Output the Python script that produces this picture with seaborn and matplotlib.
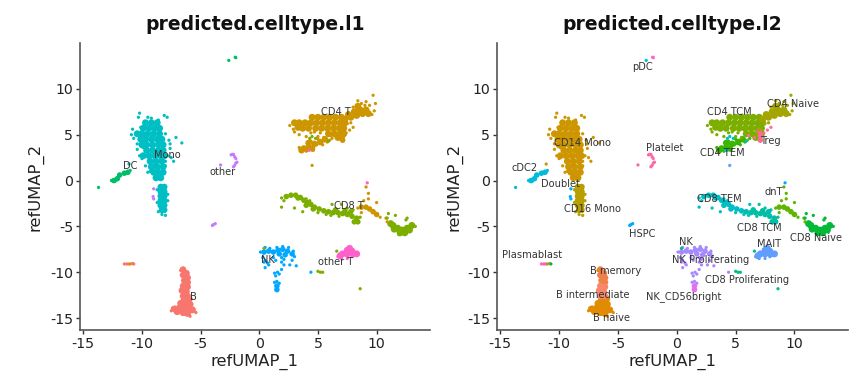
import matplotlib
matplotlib.use("Agg")
import matplotlib.pyplot as plt
import pandas as pd
import seaborn as sns

sns.set_theme(style="ticks", rc={"font.family": "DejaVu Sans", "axes.unicode_minus": False})

# ---- data: (x, y) in refUMAP coordinates ----
cd14_core = [(-9.7,6.3),(-9.2,6.3),(-8.7,6.3),(-9.9,5.7),(-9.4,5.7),(-8.9,5.7),(-8.5,5.7),
 (-10.4,5.1),(-10.0,5.1),(-9.5,5.1),(-9.0,5.1),(-8.5,5.1),(-10.1,4.5),(-9.7,4.5),(-9.2,4.5),(-8.7,4.5),(-8.3,4.5),
 (-10.0,3.9),(-9.6,3.9),(-9.1,3.9),(-8.6,3.9),(-8.2,3.9),(-9.6,3.3),(-9.1,3.3),(-8.6,3.3),(-8.2,3.3),
 (-9.9,2.7),(-9.4,2.7),(-8.9,2.7),(-8.4,2.7),(-8.1,2.7),(-9.3,2.1),(-8.8,2.1),(-8.3,2.1),
 (-9.2,1.5),(-8.7,1.5),(-8.2,1.5),(-9.0,0.9),(-8.6,0.9),(-8.2,0.9),(-8.8,0.3),(-8.4,0.3)]
cd14_sparse = [(-10.2,7.35),(-10.3,6.9),(-9.5,6.9),(-8.1,7.1),(-7.85,6.9),(-7.1,4.7),(-6.6,4.1),(-10.8,5.6),
 (-10.9,5.0),(-10.7,4.6),(-10.4,4.0),(-10.4,3.4),(-10.2,2.7),(-10.0,2.4),(-9.7,1.6),(-8.6,5.2),(-8.0,5.1),(-7.7,4.4),
 (-7.6,3.5),(-7.5,2.5),(-7.3,2.1),(-7.8,2.7),(-8.0,1.6),(-9.7,4.9),(-9.5,3.1),(-9.9,3.6),(-10.1,5.8),(-9.2,6.8),
 (-8.6,6.6),(-8.4,5.6),(-8.0,2.1),(-9.3,1.0),(-8.9,1.8),(-9.5,0.9),(-7.6,4.0),(-11.1,1.8)]
cd16_core = [(-8.4,-0.7),(-8.1,-0.7),(-8.4,-1.2),(-8.1,-1.2),(-8.4,-1.7),(-8.1,-1.7),(-8.4,-2.2),(-8.1,-2.2),
 (-8.4,-2.7),(-8.1,-2.7),(-8.3,-3.2),(-8.1,-3.2)]
cd16_sparse = [(-8.7,-1.0),(-7.8,-1.5),(-7.8,-2.2),(-8.7,-2.4),(-8.6,-3.4),(-8.0,-3.8),(-8.3,-3.7)]
cd4tcm_core = [(4.5,6.9),(5.0,6.9),(5.5,6.9),(6.0,6.9),(6.5,6.9),(7.0,6.9),
 (3.0,6.3),(3.4,6.3),(3.9,6.3),(4.4,6.3),(4.9,6.3),(5.4,6.3),(5.9,6.3),(6.4,6.3),(6.9,6.3),(7.3,6.3),
 (3.3,5.8),(3.7,5.7),(4.2,5.7),(4.8,5.7),(5.3,5.7),(5.8,5.7),(6.3,5.7),(6.8,5.7),(7.2,5.7),
 (5.9,5.1),(6.4,5.1),(6.9,5.1),(7.2,5.1),(6.7,4.7),(7.0,4.7)]
cd4tcm_sparse = [(3.4,5.0),(3.0,5.3),(4.0,4.8),(2.9,5.6),(5.0,4.8),(5.5,4.7),(5.2,5.2),(4.7,5.3),(6.0,4.4),(2.6,6.0),(4.4,5.2)]
cd4naive_core = [(7.3,6.7),(7.8,6.9),(8.3,7.1),(8.8,7.3),(9.3,7.3),(7.6,7.2),(8.1,7.5),(8.6,7.7),(9.1,7.7),(8.4,8.1)]
cd4naive_sparse = [(8.4,8.7),(8.7,8.4),(9.1,8.6),(9.4,8.2),(9.9,8.4),(9.7,9.3),(9.0,8.2),(8.0,8.0),(9.6,7.2),(9.8,7.6),(7.8,6.3),(7.5,6.2),(7.0,5.5)]
cd4tem_core = [(3.8,3.5),(4.2,3.6),(4.2,4.1),(4.7,4.0),(5.2,4.2),(4.5,3.5),(5.6,4.5),(3.6,3.3)]
cd4tem_sparse = [(4.0,3.2),(5.0,4.5),(4.9,3.9),(5.4,3.9),(5.8,4.2),(6.2,4.6),(3.4,3.6),(4.4,4.3),(4.6,3.3)]
treg_core = [(7.0,5.4),(7.1,4.9),(7.1,4.4)]
treg_sparse = [(7.7,5.5),(8.0,5.8),(6.1,4.9),(6.6,4.7),(7.4,5.2)]
cd8tem_core = [(2.3,-1.75),(2.7,-1.6),(3.1,-1.6),(3.5,-1.85),(3.8,-2.15),(4.1,-2.4),(4.4,-2.6),(4.7,-2.9),(5.1,-3.1),(5.5,-3.3),(3.3,-1.9),(4.0,-2.7),(4.6,-3.1)]
cd8tem_sparse = [(1.9,-2.9),(3.0,-3.0),(3.7,-3.4),(6.2,-2.6),(1.9,-1.9),(2.1,-2.2),(4.0,-2.0),(4.3,-2.2),(5.0,-3.5),(5.7,-3.7),(6.1,-3.8)]
cd8tcm_core = [(5.9,-3.4),(6.3,-3.5),(6.7,-3.5),(7.1,-3.6),(7.5,-3.7),(7.9,-3.9),(8.3,-4.1),(8.1,-4.5),(8.4,-4.5),(6.5,-3.2),(7.3,-3.3),(7.8,-3.4)]
cd8tcm_sparse = [(7.0,-2.6),(7.5,-3.0),(8.0,-3.2),(6.8,-3.9),(8.6,-4.0)]
dnt_core = [(8.7,-2.9),(9.1,-2.9),(9.4,-3.1),(9.7,-3.4),(10.0,-3.7)]
dnt_sparse = [(9.3,-1.4),(9.3,-2.0),(8.9,-2.2),(10.0,-2.4),(10.3,-4.0),(10.8,-4.1),(10.9,-4.5),(8.4,-3.0),(8.7,-3.5),(9.1,-0.7)]
cd8naive_core = [(11.4,-4.9),(11.8,-5.2),(12.2,-5.4),(12.6,-5.2),(13.0,-4.9),(11.5,-5.3),(12.0,-5.7),(12.4,-5.7),(12.8,-5.4),(11.2,-4.7)]
cd8naive_sparse = [(12.6,-4.1),(12.5,-4.3),(11.0,-3.6),(11.6,-3.8),(10.9,-4.1),(13.3,-5.0),(11.9,-5.9)]
mait_core = [(7.1,-8.0),(7.5,-7.6),(7.9,-7.7),(7.5,-8.0),(8.0,-8.0),(8.3,-8.0),(7.7,-7.4),(6.9,-8.2)]
mait_sparse = [(6.7,-8.3),(7.0,-8.5),(7.5,-8.5),(7.9,-8.3)]
nk_core = [(0.4,-7.8),(0.8,-7.7),(1.2,-7.8),(1.6,-7.6),(2.0,-7.5),(2.4,-7.7),(2.8,-8.0),(1.7,-8.0),(2.2,-8.1)]
nk_sparse = [(0.5,-7.3),(0.9,-7.4),(1.5,-7.3),(2.0,-7.2),(2.5,-7.3),(3.0,-8.3),(2.9,-7.7),(0.1,-7.8),(1.2,-8.4),(1.9,-8.4),
 (1.4,-8.7),(1.9,-8.9),(0.3,-8.4),(0.5,-8.7),(0.5,-9.5),(0.7,-9.0),(0.8,-9.2),(2.1,-9.2),(1.9,-9.7),(2.8,-8.7),(2.6,-9.2),
 (1.3,-10.1),(1.7,-10.2),(1.4,-10.4),(1.55,-10.0),(1.5,-11.0),(1.3,-11.1),(1.7,-11.2),(4.4,-10.0)]
nkprolif_sparse = [(3.15,-9.3),(0.4,-8.9),(2.1,-8.6)]
cd56_core = [(1.5,-11.5),(1.5,-11.9)]
cd8prolif_sparse = [(5.0,-9.9),(5.2,-10.0),(5.4,-10.0),(6.6,-7.7),(8.6,-11.8),(0.4,-7.4)]
hspc_sparse = [(-3.9,-4.8),(-3.75,-4.7),(-4.0,-4.9)]
bmem_core = [(-6.5,-9.7),(-6.2,-10.1),(-6.5,-10.3),(-6.1,-10.6),(-6.4,-10.9),(-6.1,-11.1)]
bint_core = [(-6.5,-11.5),(-6.1,-11.6),(-6.6,-12.0),(-6.2,-12.1),(-6.5,-12.6),(-6.1,-12.6)]
bnaive_core = [(-6.4,-13.0),(-6.0,-13.0),(-6.7,-13.4),(-6.3,-13.5),(-5.9,-13.5),(-7.2,-14.0),(-6.8,-13.9),(-6.4,-14.0),
 (-6.0,-14.0),(-5.7,-14.1),(-7.0,-14.3),(-6.5,-14.4),(-6.1,-14.5)]
bnaive_sparse = [(-7.5,-14.2),(-7.4,-13.9),(-5.4,-14.4),(-5.9,-14.8),(-6.4,-14.6),(-6.7,-9.8),(-5.8,-12.9)]
plasma_sparse = [(-11.5,-9.1),(-11.3,-9.1),(-11.15,-9.1),(-10.8,-9.05)]
cdc2_core = [(-12.4,0.0),(-12.1,0.2),(-11.9,0.6),(-11.5,0.8),(-11.2,0.9)]
cdc2_sparse = [(-12.6,0.0),(-11.0,1.1),(-12.3,-0.1),(-13.7,-0.75),(-2.6,13.1)]
platelet_sparse = [(-2.4,2.8),(-2.2,2.85),(-2.1,2.6),(-2.0,2.4),(-1.9,2.0),(-2.0,1.9),(-2.2,1.5),(-2.1,1.65),(-3.3,1.7),(-2.3,2.85)]
pdc_sparse = [(-2.0,13.4),(-2.05,13.45)]
doublet_sparse = [(-9.0,-0.9),(-9.05,-1.75),(-9.0,-2.0)]

# cell type -> (parent class, dense points, scattered points)
celltypes = {
 "CD14 Mono": ("Mono", cd14_core, cd14_sparse), "CD16 Mono": ("Mono", cd16_core, cd16_sparse),
 "CD4 TCM": ("CD4 T", cd4tcm_core, cd4tcm_sparse), "CD4 Naive": ("CD4 T", cd4naive_core, cd4naive_sparse),
 "CD4 TEM": ("CD4 T", cd4tem_core, cd4tem_sparse), "Treg": ("CD4 T", treg_core, treg_sparse),
 "CD8 TEM": ("CD8 T", cd8tem_core, cd8tem_sparse), "CD8 TCM": ("CD8 T", cd8tcm_core, cd8tcm_sparse),
 "dnT": ("CD4 T", dnt_core, dnt_sparse), "CD8 Naive": ("CD8 T", cd8naive_core, cd8naive_sparse),
 "MAIT": ("other T", mait_core, mait_sparse), "NK": ("NK", nk_core, nk_sparse),
 "NK Proliferating": ("NK", [], nkprolif_sparse), "NK_CD56bright": ("NK", cd56_core, []),
 "CD8 Proliferating": ("CD8 T", [], cd8prolif_sparse), "HSPC": ("other", [], hspc_sparse),
 "B memory": ("B", bmem_core, []), "B intermediate": ("B", bint_core, []), "B naive": ("B", bnaive_core, bnaive_sparse),
 "Plasmablast": ("B", [], plasma_sparse), "cDC2": ("DC", cdc2_core, cdc2_sparse), "Platelet": ("other", [], platelet_sparse),
 "pDC": ("DC", [], pdc_sparse), "Doublet": ("other", [], doublet_sparse),
}
wide_types = ["CD14 Mono", "CD4 TCM", "CD4 Naive", "B naive", "CD8 Naive", "MAIT"]
column_types = ["CD16 Mono", "B memory", "B intermediate", "CD4 TEM"]
# single points whose two labels do not follow the parent class
odd_x = [4.5, 4.5, 4.8, 4.3, 5.9, 4.1, 9.2, -11.0, -10.7, 4.25]
odd_y = [1.65, 4.8, 4.6, 4.6, 4.3, 3.3, -0.25, -9.1, -9.1, 3.3]
odd_l1 = ["CD4 T", "CD8 T", "CD8 T", "CD8 T", "CD8 T", "CD4 T", "other T", "CD4 T", "B", "other T"]
odd_l2 = ["MAIT", "CD8 TEM", "CD8 TEM", "CD8 TEM", "CD8 TEM", "CD8 TCM", "HSPC", "CD4 Naive", "CD8 Naive", "CD8 TCM"]

palette_l1 = {"B": "#F8766D", "CD4 T": "#CD9600", "CD8 T": "#7CAE00", "DC": "#00BE67", "Mono": "#00BFC4",
              "NK": "#00A9FF", "other": "#C77CFF", "other T": "#FF61CC"}
palette_l2 = {"B intermediate": "#F8866A", "B memory": "#F07F4A", "B naive": "#E08B00", "CD14 Mono": "#CD9600",
              "CD16 Mono": "#B79F00", "CD4 Naive": "#A3A500", "CD4 TCM": "#7CAE00", "CD4 TEM": "#39B600",
              "CD8 Naive": "#00BA38", "CD8 Proliferating": "#00BF7D", "CD8 TCM": "#00BFA5", "CD8 TEM": "#00BFC4",
              "cDC2": "#00BCD8", "Doublet": "#00B0F6", "dnT": "#5FB500", "HSPC": "#00A9FF", "MAIT": "#619CFF",
              "NK": "#A58AFF", "NK Proliferating": "#C77CFF", "NK_CD56bright": "#E76BF3", "pDC": "#FB61D7",
              "Plasmablast": "#FF61C3", "Platelet": "#FF67A4", "Treg": "#FF6C91"}

labels_l1 = ["CD4 T", "Mono", "DC", "other", "CD8 T", "NK", "other T", "B"]
label_x_l1 = [6.54, -7.8, -11.0, -3.1, 7.6, 0.75, 6.5, -5.65]
label_y_l1 = [7.5, 2.8, 1.6, 0.9, -2.8, -8.65, -8.9, -12.7]
labels_l2 = ["pDC", "CD4 Naive", "CD4 TCM", "Treg", "CD4 TEM", "Platelet", "CD14 Mono", "cDC2", "Doublet", "dnT",
             "CD8 TEM", "CD16 Mono", "HSPC", "CD8 TCM", "CD8 Naive", "MAIT", "NK", "NK Proliferating", "Plasmablast",
             "B memory", "CD8 Proliferating", "B intermediate", "NK_CD56bright", "B naive"]
label_x_l2 = [-2.9, 9.84, 4.43, 7.97, 3.83, -1.07, -8.0, -12.93, -9.9, 8.25, 3.63, -7.18, -2.9, 7.0, 11.87, 7.88,
              0.8, 2.84, -12.3, -5.23, 6.0, -7.16, 0.55, -5.57]
label_y_l2 = [12.4, 8.3, 7.46, 4.33, 2.95, 3.5, 4.08, 1.39, -0.33, -1.27, -2.0, -3.12, -5.8, -5.2, -6.29, -6.95,
              -6.66, -8.66, -8.11, -9.86, -10.9, -12.48, -12.66, -14.96]
x_ticks = [-15, -10, -5, 0, 5, 10]
y_ticks = [-15, -10, -5, 0, 5, 10]

rows = []
for l2, (l1, core, sparse) in celltypes.items():
    kind = "wide" if l2 in wide_types else "column" if l2 in column_types else "thin"
    rows += [dict(x=p[0], y=p[1], l1=l1, l2=l2, kind=kind) for p in core]
    rows += [dict(x=p[0], y=p[1], l1=l1, l2=l2, kind="sparse") for p in sparse]
for x, y, l1, l2 in zip(odd_x, odd_y, odd_l1, odd_l2):
    rows.append(dict(x=x, y=y, l1=l1, l2=l2, kind="sparse"))
df = pd.DataFrame(rows)

W, H = 853, 386
fig = plt.figure(figsize=(W / 100, H / 100), dpi=100, facecolor="white")
marker_sizes = {"wide": 25, "column": 22, "thin": 16, "sparse": 5.5}


def panel(left, right, hue, palette, title, labels, lx, ly, xlim, ylabel_px):
    top, bottom = 43, 330
    ax = fig.add_axes([left / W, 1 - bottom / H, (right - left) / W, (bottom - top) / H])
    for kind, size in marker_sizes.items():
        sns.scatterplot(data=df[df.kind == kind], x="x", y="y", hue=hue, palette=palette, s=size,
                        linewidth=0, legend=False, ax=ax, zorder=2)
    for t, x, y in zip(labels, lx, ly):
        ax.text(x, y, t, fontsize=7.1, color="#333333", ha="center", va="center", zorder=4)
    ax.set_xlim(*xlim)
    ax.set_ylim(-16.3, 15.0)
    ax.set_xticks(x_ticks)
    ax.set_yticks(y_ticks)
    ax.tick_params(labelsize=10.2, length=3, width=1, color="#333333", labelcolor="#222222", pad=2)
    for s in ("top", "right"):
        ax.spines[s].set_visible(False)
    for s in ("left", "bottom"):
        ax.spines[s].set_linewidth(1.2)
        ax.spines[s].set_color("#555555")
    ax.set_xlabel("refUMAP_1", fontsize=11.8, color="#222222", labelpad=2)
    ax.set_ylabel("refUMAP_2", fontsize=11.8, color="#222222")
    ax.yaxis.set_label_coords((ylabel_px - left) / (right - left), 0.5)
    ax.set_title(title, fontsize=13.5, fontweight="bold", color="#111111", pad=9)
    return ax


panel(80, 430, "l1", palette_l1, "predicted.celltype.l1", labels_l1, label_x_l1, label_y_l1, (-15.28, 14.55), 44)
panel(497, 848, "l2", palette_l2, "predicted.celltype.l2", labels_l2, label_x_l2, label_y_l2, (-15.28, 14.55), 463)

fig.savefig("out.png", dpi=100, facecolor="white")
